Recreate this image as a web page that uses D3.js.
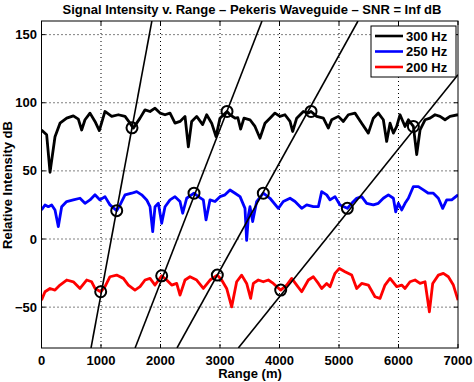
<!DOCTYPE html>
<html><head><meta charset="utf-8">
<script src="https://cdn.jsdelivr.net/npm/d3@7"></script>
<style>body{margin:0;background:#fff}svg{display:block}text{font-family:"Liberation Sans",Arial,sans-serif;font-weight:bold}</style>
</head><body><svg id="c" width="474" height="382"></svg>
<script>
const title = "Signal Intensity v. Range \u2013 Pekeris Waveguide \u2013 SNR = Inf dB";
const xLabel = "Range (m)";
const yLabel = "Relative Intensity dB";
const xTicks = [0,1000,2000,3000,4000,5000,6000,7000];
const yTicks = [-50,0,50,100,150];
const seriesNames = ["300 Hz","250 Hz","200 Hz"];
const seriesColors = ["#000000","#0000ff","#ff0000"];

const range300 = [0,87,143,227,311,423,535,619,675,731,815,899,972,1067,1180,1292,1404,1487,1543,1656,1740,1824,1908,1992,2076,2160,2244,2328,2412,2468,2524,2608,2709,2776,2860,2933,3000,3118,3168,3253,3300,3347,3403,3504,3588,3672,3756,3840,3924,4008,4092,4177,4221,4289,4401,4485,4530,4625,4737,4821,4877,4989,5073,5157,5269,5381,5493,5577,5661,5745,5801,5858,5914,5970,6026,6110,6166,6250,6306,6362,6446,6530,6614,6698,6782,6866,7000];
const db300 = [80,76.5,49,75,85,88.7,90.4,88,80,87.5,92.4,86.3,79.6,93.6,90,91.2,90,85,81.4,88.7,94.8,93.6,96,92.4,91.2,92.4,85,86.3,90,67.6,86.3,90,84,91.2,85,75.2,88.7,93.6,91.2,88.7,89,80.6,88.7,87.5,82.6,74,85,88.7,92.4,90,91.2,86.3,78.9,88.7,93.6,92.4,93.6,90,88.7,81.4,87.5,90,86.3,91.2,92.4,85,77.7,88.7,92.4,87.5,71.6,85,77.7,82.6,91.2,82.6,87.5,82.6,62,80,87.5,88.7,91.2,90,87.5,90,91.2];

const range250 = [0,59,115,171,227,283,339,423,535,647,731,815,899,983,1067,1151,1264,1320,1404,1516,1600,1684,1768,1824,1869,1908,1964,2020,2076,2160,2244,2328,2373,2440,2563,2636,2720,2765,2832,2916,3000,3084,3168,3253,3337,3420,3448,3480,3504,3549,3616,3728,3840,3980,4064,4177,4261,4373,4457,4569,4653,4709,4793,4849,4933,5017,5140,5213,5297,5381,5465,5577,5661,5745,5830,5914,5953,5998,6054,6110,6166,6250,6334,6418,6502,6586,6670,6743,6810,6894,7000];
const db250 = [21.3,25,23.7,25,21.3,9.1,23.7,27.5,28.7,29.9,26.2,28.7,32.4,28.7,31.1,25,20.8,25,32.4,33.6,34.8,32.4,28.7,23.7,5.4,23.7,26.2,11.5,23.7,28.7,31.1,27.5,18.9,29.9,33.6,31.1,28.7,14,28.7,27.5,31.1,32.4,36,33.6,31.1,22.5,-1,18,23.7,12.8,27.5,33.6,29.9,22.5,27.5,29.9,27.5,22.5,25,23.7,23.7,34.8,32.4,28.7,31.1,25,22.5,26.2,29.9,31.1,26.2,25,26.2,29.9,32.4,29.9,20,26.2,21.3,26.2,29.9,38.5,38.5,36,33.6,33.6,29.9,22.5,28.7,28.7,32.4];

const range200 = [0,59,143,227,311,423,535,647,759,843,899,995,1067,1151,1263,1376,1460,1571,1656,1740,1824,1908,2020,2104,2188,2272,2328,2412,2496,2608,2720,2832,2955,3028,3112,3196,3280,3364,3448,3515,3560,3644,3728,3812,3896,4020,4121,4205,4289,4373,4485,4569,4653,4709,4793,4849,4933,5006,5101,5213,5297,5381,5493,5605,5689,5773,5858,5970,6054,6110,6194,6278,6362,6446,6519,6575,6670,6754,6838,6922,7000];
const db200 = [-45,-38.7,-36.3,-37.5,-33.8,-30.1,-31.4,-36.3,-30.1,-31.4,-36.3,-38.7,-35,-27.7,-26.5,-28.9,-33.8,-37.5,-35,-30.1,-28.9,-33.8,-27,-30.1,-33.8,-32.6,-41.2,-30.1,-27.7,-30.1,-36.3,-30.1,-26.5,-30.1,-36.3,-49.8,-31.4,-26.5,-32.6,-43.6,-32.6,-30.1,-31.4,-30.1,-32.6,-37.5,-33.8,-28.9,-33.8,-38.7,-30.1,-27.7,-32.6,-36.3,-32.6,-35,-25.2,-21.6,-24,-26.5,-36.3,-32.6,-33.8,-42.4,-43.6,-33.8,-28.9,-35,-33.8,-36.3,-31.4,-30.1,-32.6,-31.4,-53.4,-32.6,-26.5,-25.2,-27.7,-33.8,-44.9];

// straight lines: start and end points (range, dB)
const lineStartRange = [832,1573,2277,3308];
const lineStartDb = [-80,-80,-80,-80];
const lineEndRange = [1855,3706,5319,7000];
const lineEndDb = [160,160,160,120.6];

// circle markers at intersections
const circleRange = [1521,3118,4530,6250, 1264,2563,3728,5140, 995,2020,2955,4020];
const circleDb = [81.6,93.6,93.6,82.6, 20.8,33.6,33.6,22.5, -38.7,-27,-26.5,-37.5];

const svg = d3.select("#c");
const L=41.5,R=458,T=21,B=348;
const x = d3.scaleLinear().domain([0,7000]).range([L,R]);
const y = d3.scaleLinear().domain([-80,160]).range([B,T]);

svg.append("rect").attr("x",L).attr("y",T).attr("width",R-L).attr("height",B-T).attr("fill","#fff");
svg.append("defs").append("clipPath").attr("id","clip").append("rect").attr("x",L).attr("y",T).attr("width",R-L).attr("height",B-T);

// grid
const g = svg.append("g");
xTicks.slice(1,-1).forEach(t=>g.append("line").attr("x1",x(t)).attr("x2",x(t)).attr("y1",T).attr("y2",B).attr("stroke","#000").attr("stroke-width",1).attr("stroke-dasharray","1,3"));
yTicks.forEach(t=>g.append("line").attr("x1",L).attr("x2",R).attr("y1",y(t)).attr("y2",y(t)).attr("stroke","#000").attr("stroke-width",1).attr("stroke-dasharray","1,3"));

const plot = svg.append("g").attr("clip-path","url(#clip)");
const ser = [[range300,db300],[range250,db250],[range200,db200]];
const lineGen = d3.line().x(d=>x(d[0])).y(d=>y(d[1]));
ser.forEach((s,i)=>{
  const pts = s[0].map((r,j)=>[r,s[1][j]]);
  plot.append("path").attr("d",lineGen(pts)).attr("fill","none").attr("stroke",seriesColors[i]).attr("stroke-width",2.8).attr("stroke-linejoin","round");
});
lineStartRange.forEach((r,i)=>{
  plot.append("line").attr("x1",x(r)).attr("y1",y(lineStartDb[i])).attr("x2",x(lineEndRange[i])).attr("y2",y(lineEndDb[i])).attr("stroke","#000").attr("stroke-width",1.6);
});
circleRange.forEach((r,i)=>{
  plot.append("circle").attr("cx",x(r)).attr("cy",y(circleDb[i])).attr("r",5.5).attr("fill","none").attr("stroke","#000").attr("stroke-width",2);
});

// axes box
svg.append("rect").attr("x",L).attr("y",T).attr("width",R-L).attr("height",B-T).attr("fill","none").attr("stroke","#000").attr("stroke-width",1);
// ticks inward
xTicks.forEach(t=>{
  svg.append("line").attr("x1",x(t)).attr("x2",x(t)).attr("y1",B).attr("y2",B-4).attr("stroke","#000");
  svg.append("line").attr("x1",x(t)).attr("x2",x(t)).attr("y1",T).attr("y2",T+4).attr("stroke","#000");
  svg.append("text").attr("x",x(t)).attr("y",365).attr("text-anchor","middle").attr("font-size",13).text(t);
});
yTicks.forEach(t=>{
  svg.append("line").attr("x1",L).attr("x2",L+4).attr("y1",y(t)).attr("y2",y(t)).attr("stroke","#000");
  svg.append("line").attr("x1",R).attr("x2",R-4).attr("y1",y(t)).attr("y2",y(t)).attr("stroke","#000");
  svg.append("text").attr("x",37).attr("y",y(t)+4.5).attr("text-anchor","end").attr("font-size",13).text(t===-50?"\u221250":t);
});
svg.append("text").attr("x",250).attr("y",378).attr("text-anchor","middle").attr("font-size",13).text(xLabel);
svg.append("text").attr("transform","translate(12,185) rotate(-90)").attr("text-anchor","middle").attr("font-size",13).text(yLabel);
svg.append("text").attr("x",252).attr("y",14).attr("text-anchor","middle").attr("font-size",13).text(title);

// legend
const lg = svg.append("g");
lg.append("rect").attr("x",371).attr("y",26).attr("width",85).attr("height",51).attr("fill","#fff").attr("stroke","#000");
seriesNames.forEach((n,i)=>{
  const yy = 36+i*15.5;
  lg.append("line").attr("x1",375).attr("x2",403).attr("y1",yy).attr("y2",yy).attr("stroke",seriesColors[i]).attr("stroke-width",2.6);
  lg.append("text").attr("x",406).attr("y",yy+4.5).attr("font-size",13).text(n);
});
</script></body></html>
